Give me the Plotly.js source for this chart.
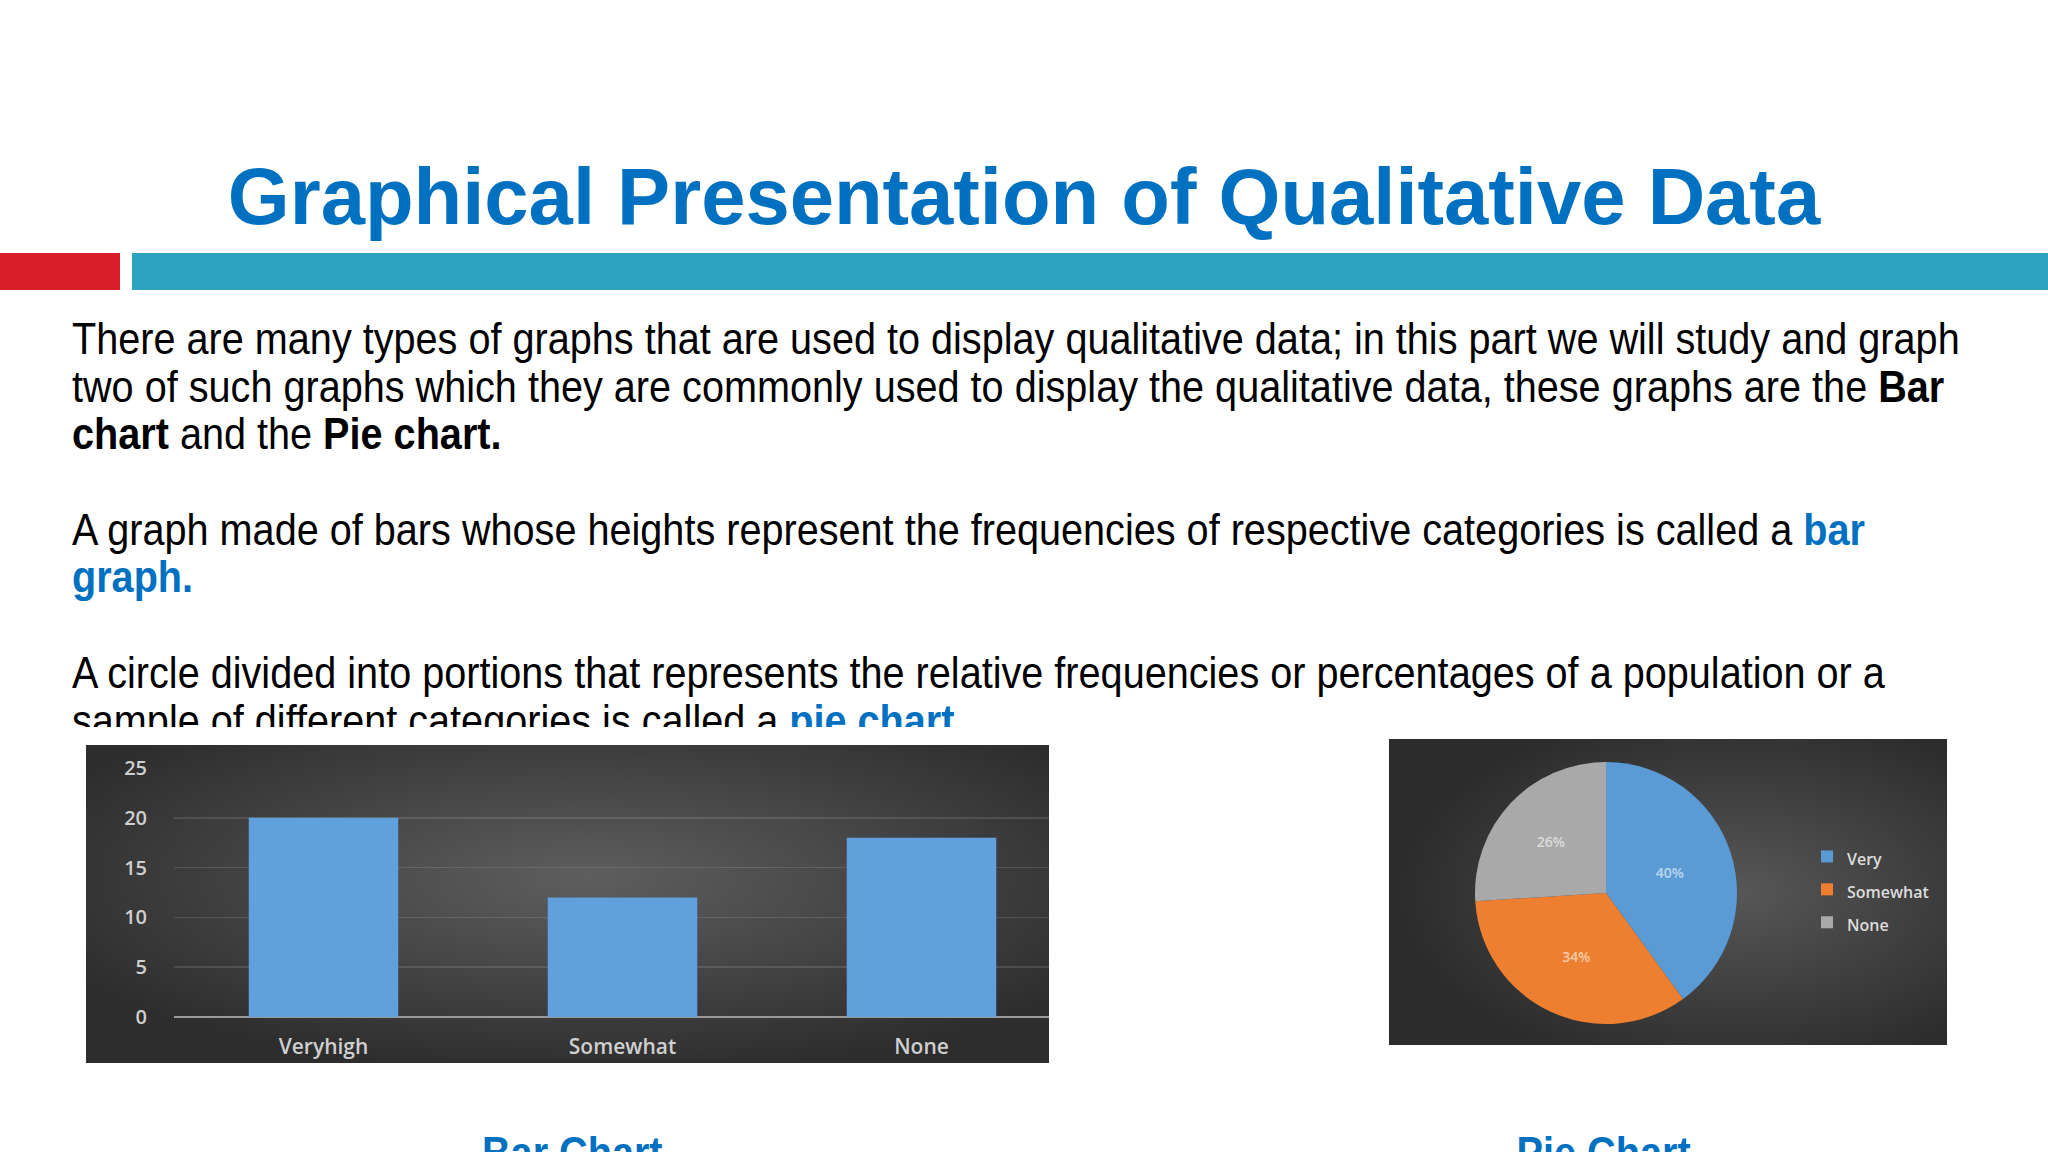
<!DOCTYPE html>
<html><head><meta charset="utf-8">
<script src="https://cdn.plot.ly/plotly-3.0.1.min.js"></script>
<style>html,body{margin:0;padding:0;background:#fff;overflow:hidden}#chart{width:2048px;height:1152px}</style>
</head><body><div id="chart"></div>
<script>
// ---------------- data ----------------
const barCategories = ['Veryhigh', 'Somewhat', 'None'];
const barValues = [20, 12, 18];
const barTickValues = [0, 5, 10, 15, 20, 25];
const pieLabels = ['Very', 'Somewhat', 'None'];
const pieValues = [40, 34, 26];
const pieColors = ['#5b9bd5', '#ee7f30', '#a9a9a9'];
const titleText = 'Graphical Presentation of Qualitative Data';
const BLUE = '#0070C0';
const blue = s => '<span style="color:' + BLUE + '"><b>' + s + '</b></span>';
const bodyLines = [
  'There are many types of graphs that are used to display qualitative data; in this part we will study and graph',
  'two of such graphs which they are commonly used to display the qualitative data, these graphs are the <b>Bar</b>',
  '<b>chart</b> and the <b>Pie chart.</b>',
  '',
  'A graph made of bars whose heights represent the frequencies of respective categories is called a ' + blue('bar'),
  blue('graph.'),
  '',
  'A circle divided into portions that represents the relative frequencies or percentages of a population or a',
  'sample of different categories is called a ' + blue('pie chart.')
];
const captions = ['Bar Chart', 'Pie Chart'];

// ---------------- layout helpers ----------------
const W = 2048, H = 1152;
const px = x => x / W;
const py = y => 1 - y / H;
const SANS = '"Liberation Sans", Arial, sans-serif';
const CHARTFONT = '"Open Sans", Lato, sans-serif';
const NARROW_SCALE = 0.901;   // the slide's body font is a narrow Arial

// body text geometry
const BODY_X = 72, BODY_TOP = 300, CLIP_Y = 727, LINE0 = 343.0, LH = 47.7;

function gradientImage(w, h, cx, cy, r, inner, outer) {
  const c = document.createElement('canvas');
  c.width = w; c.height = h;
  const g = c.getContext('2d');
  g.fillStyle = outer; g.fillRect(0, 0, w, h);
  g.setTransform(1, 0, 0, h / w, 0, 0);
  const gr = g.createRadialGradient(cx * w, cy * w, 0, cx * w, cy * w, r * w);
  gr.addColorStop(0, inner); gr.addColorStop(1, outer);
  g.fillStyle = gr; g.fillRect(0, 0, w, w);
  return c.toDataURL('image/png');
}

const barBox = {x0: 86, y0: 745, x1: 1049, y1: 1063};
const pieBox = {x0: 1389, y0: 739, x1: 1947, y1: 1045};

const bodyIdx = [], bodyTxt = [];
bodyLines.forEach((t, i) => { if (t) { bodyIdx.push(i); bodyTxt.push(t); } });

const traces = [
  {
    type: 'bar', x: barCategories, y: barValues, xaxis: 'x', yaxis: 'y',
    marker: {color: '#5fa0dd', line: {width: 0}}, showlegend: false, hoverinfo: 'skip'
  },
  {
    type: 'pie', labels: pieLabels.map(l => '<span style="font-size:16px">' + l + '</span>'),
    values: pieValues, sort: false, direction: 'clockwise', rotation: 0,
    domain: {x: [px(1475), px(1737)], y: [py(1024), py(762)]},
    marker: {colors: pieColors, line: {width: 0}},
    texttemplate: '%{percent:.0%}', textposition: 'inside', insidetextorientation: 'horizontal',
    insidetextfont: {family: CHARTFONT, size: 14, weight: 600, color: 'rgba(255,255,255,0.6)'},
    hoverinfo: 'skip', showlegend: true
  },
  {
    type: 'scatter', mode: 'text', x: bodyIdx.map(() => BODY_X), y: bodyIdx, text: bodyTxt,
    textposition: 'middle right', cliponaxis: true, xaxis: 'x3', yaxis: 'y3',
    textfont: {family: SANS, size: 44, color: '#000'}, showlegend: false, hoverinfo: 'skip'
  }
];

const layout = {
  width: W, height: H, margin: {l: 0, r: 0, t: 0, b: 0, pad: 0},
  paper_bgcolor: '#ffffff', plot_bgcolor: 'rgba(0,0,0,0)',
  title: {
    text: titleText, x: 0.5, xanchor: 'center', xref: 'container', yref: 'container',
    y: py(196), yanchor: 'middle',
    font: {family: SANS, size: 79.6, weight: 700, color: BLUE}
  },
  xaxis: {
    domain: [px(174), px(barBox.x1)], type: 'category',
    range: [-0.5, -0.5 + (barBox.x1 - 174) / 299],
    showgrid: false, zeroline: false, showline: false, ticks: '',
    tickfont: {family: CHARTFONT, size: 21, weight: 600, color: '#cfcfcf'}, ticklabelstandoff: 15, fixedrange: true
  },
  yaxis: {
    domain: [py(1017), py(768)], range: [0, 25], tickvals: barTickValues,
    showgrid: true, gridcolor: 'rgba(255,255,255,0.12)', gridwidth: 1.5,
    zeroline: true, zerolinecolor: '#9a9a9a', zerolinewidth: 2, showline: false, ticks: '',
    tickfont: {family: CHARTFONT, size: 20, weight: 600, color: '#cfcfcf'}, ticklabelstandoff: 26, fixedrange: true
  },
  xaxis3: {domain: [0, 1], range: [0, W], visible: false, fixedrange: true},
  yaxis3: {
    domain: [py(CLIP_Y), py(BODY_TOP)],
    range: [(CLIP_Y - LINE0) / LH, (BODY_TOP - LINE0) / LH], visible: false, fixedrange: true
  },
  bargap: 0.5,
  legend: {
    x: px(1807), y: py(835), xanchor: 'left', yanchor: 'top', orientation: 'v',
    bgcolor: 'rgba(0,0,0,0)', borderwidth: 0,
    font: {family: CHARTFONT, size: 23, weight: 600, color: '#dcdcdc'}
  },
  shapes: [
    {type: 'rect', xref: 'paper', yref: 'paper', x0: px(0), x1: px(120), y0: py(290), y1: py(253),
     fillcolor: '#d9202a', line: {width: 0}, layer: 'below'},
    {type: 'rect', xref: 'paper', yref: 'paper', x0: px(132), x1: px(2048), y0: py(290), y1: py(253),
     fillcolor: '#2ca3c1', line: {width: 0}, layer: 'below'}
  ],
  images: [
    {source: gradientImage(barBox.x1 - barBox.x0, barBox.y1 - barBox.y0, 0.52, 0.42, 0.62, '#5e5e5e', '#2d2d2d'),
     xref: 'paper', yref: 'paper', x: px(barBox.x0), y: py(barBox.y0),
     sizex: (barBox.x1 - barBox.x0) / W, sizey: (barBox.y1 - barBox.y0) / H,
     xanchor: 'left', yanchor: 'top', sizing: 'stretch', layer: 'below'},
    {source: gradientImage(pieBox.x1 - pieBox.x0, pieBox.y1 - pieBox.y0, 0.62, 0.5, 0.6, '#575757', '#2c2c2c'),
     xref: 'paper', yref: 'paper', x: px(pieBox.x0), y: py(pieBox.y0),
     sizex: (pieBox.x1 - pieBox.x0) / W, sizey: (pieBox.y1 - pieBox.y0) / H,
     xanchor: 'left', yanchor: 'top', sizing: 'stretch', layer: 'below'}
  ],
  annotations: [
    {text: '<b>' + captions[0] + '</b>', xref: 'paper', yref: 'paper', x: px(572), y: py(1126),
     xanchor: 'center', yanchor: 'top', showarrow: false,
     font: {family: SANS, size: 44, color: BLUE}},
    {text: '<b>' + captions[1] + '</b>', xref: 'paper', yref: 'paper', x: px(1604), y: py(1126),
     xanchor: 'center', yanchor: 'top', showarrow: false,
     font: {family: SANS, size: 44, color: BLUE}}
  ]
};

function narrow(el, ax) {
  const prev = el.getAttribute('transform') || '';
  el.setAttribute('transform', (prev + ' translate(' + ax + ',0) scale(' + NARROW_SCALE + ',1) translate(' + (-ax) + ',0)').trim());
}

Plotly.newPlot('chart', traces, layout, {displayModeBar: false, staticPlot: true}).then(gd => {
  gd.querySelectorAll('.scatterlayer .textpoint text').forEach(el => {
    narrow(el, parseFloat(el.getAttribute('x')) || 0);
  });
  gd.querySelectorAll('.annotation-text-g text').forEach(el => {
    const b = el.getBBox();
    narrow(el, b.x + b.width / 2);
  });
});
</script>
</body></html>
